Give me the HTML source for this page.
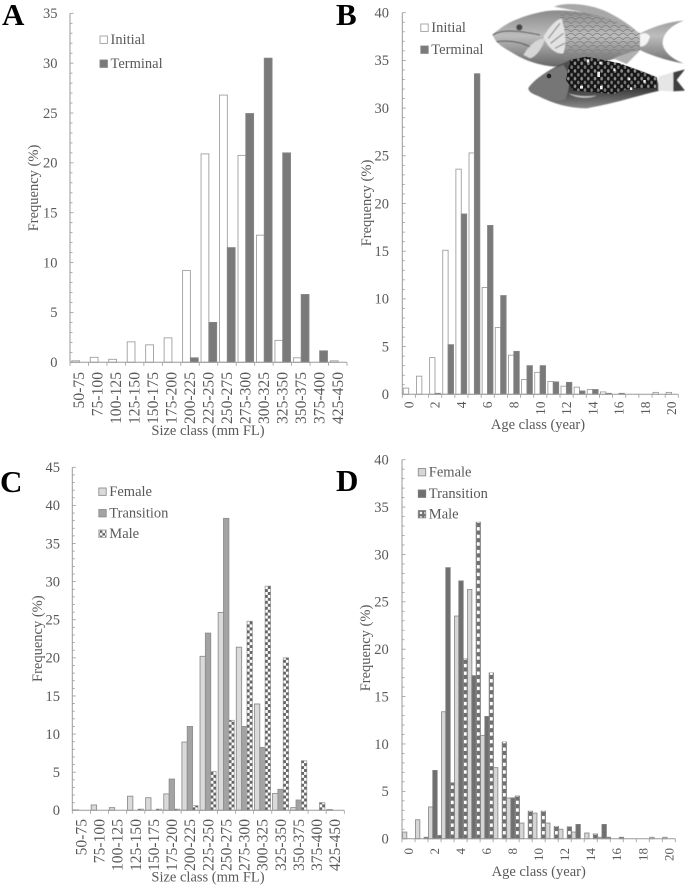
<!DOCTYPE html>
<html>
<head>
<meta charset="utf-8">
<title>Size and age frequency charts</title>
<style>
html,body{margin:0;padding:0;background:#fff;width:685px;height:886px;overflow:hidden}
svg{display:block;position:absolute;left:0;top:0}
#charts{filter:blur(0.35px)}
text{font-family:"Liberation Serif",serif;fill:#595959}
.panel{font-weight:bold;font-size:31px;fill:#000}
</style>
</head>
<body>
<svg id="charts" width="685" height="886" viewBox="0 0 685 886" xmlns="http://www.w3.org/2000/svg">
  <defs>
    <pattern id="checkC" width="5.2" height="5.2" patternUnits="userSpaceOnUse" x="1">
      <rect width="5.2" height="5.2" fill="#fff"/>
      <rect width="2.6" height="2.6" fill="#666"/>
      <rect x="2.6" y="2.6" width="2.6" height="2.6" fill="#666"/>
    </pattern>
    <pattern id="checkD" width="4.6" height="4.6" patternUnits="userSpaceOnUse">
      <rect width="4.6" height="4.6" fill="#707070"/>
      <rect x="1.2" y="1.2" width="2.2" height="2.2" fill="#fff"/>
    </pattern>
    <linearGradient id="fish1" x1="0" y1="0" x2="0" y2="1">
      <stop offset="0" stop-color="#8a8a8a"/><stop offset=".45" stop-color="#bdbdbd"/><stop offset="1" stop-color="#666"/>
    </linearGradient>
    <linearGradient id="fish2" x1="0" y1="0" x2="0" y2="1">
      <stop offset="0" stop-color="#555"/><stop offset=".6" stop-color="#3a3a3a"/><stop offset="1" stop-color="#8a8a8a"/>
    </linearGradient>
    <pattern id="scales" width="20" height="23" patternUnits="userSpaceOnUse">
      <rect width="20" height="23" fill="#151515"/>
      <ellipse cx="5" cy="6" rx="4" ry="5.5" fill="#8c8c8c"/>
      <ellipse cx="15" cy="17.5" rx="4" ry="5.5" fill="#777"/>
    </pattern>
    <pattern id="lightScales" width="26" height="24" patternUnits="userSpaceOnUse">
      <path d="M0 12C7 2 19 2 26 12M-13 24C-6 14 6 14 13 24C20 14 32 14 39 24" fill="none" stroke="#808080" stroke-width="2.5"/>
    </pattern>
    <filter id="soft"><feGaussianBlur stdDeviation="1.6"/></filter>
    <filter id="softer"><feGaussianBlur stdDeviation="0.9"/></filter>
    <clipPath id="scaleArea"><path d="M258 240L270 180L320 170L420 190L530 232L530 265L450 265L400 282L280 272Z"/></clipPath>
    <clipPath id="upperBody"><path d="M38 105C70 70 130 45 200 33C300 22 420 60 480 100L480 150C430 170 350 195 270 200C200 205 140 185 100 160C75 145 50 135 38 105Z"/></clipPath>
  </defs>

  <text class="panel" x="2" y="25">A</text>
  <text class="panel" x="336" y="25">B</text>
  <text class="panel" x="0" y="492">C</text>
  <text class="panel" x="336" y="491">D</text>

  <g id="chart-a"></g>
  <g id="chart-b"></g>
  <g id="chart-c"></g>
  <g id="chart-d"></g>

  <g transform="translate(480 0) scale(.3333)">
    <g>
      <g filter="url(#soft)">
        <path d="M222 20C260 5 330 12 380 35C420 55 450 75 475 98L420 75L300 35Z" fill="#a8a8a8"/>
        <path d="M38 105C70 70 130 45 200 33C300 22 420 60 480 100C510 85 560 65 612 62C575 75 548 100 548 130C550 155 580 180 612 190C570 185 510 165 480 150C430 170 350 195 270 200C200 205 140 185 100 160C75 145 50 135 38 105Z" fill="url(#fish1)"/>
      </g>
      <rect x="240" y="35" width="240" height="160" fill="url(#lightScales)" clip-path="url(#upperBody)" filter="url(#softer)"/>
      <g filter="url(#soft)">
        <path d="M190 110C205 85 225 60 245 55C255 90 262 130 250 160C235 165 205 150 190 110Z" fill="#e2e2e2"/>
        <path d="M205 115L240 70M212 130L250 100M225 145L254 130" stroke="#777" stroke-width="3" fill="none"/>
        <path d="M130 165C150 130 175 115 195 115C190 140 170 170 150 175Z" fill="#d6d6d6"/>
        <path d="M480 105C490 95 505 100 510 110C505 125 500 140 480 140Z" fill="#f4f4f4"/>
        <path d="M38 105C60 90 100 88 180 105M50 125C90 120 120 125 150 140" stroke="#5c5c5c" stroke-width="3" fill="none"/>
        <circle cx="118" cy="82" r="9" fill="#444"/>
      </g>
    </g>
    <g>
      <g filter="url(#soft)">
        <path d="M400 175C430 162 460 153 480 152L440 192Z" fill="#b0b0b0"/>
        <path d="M145 265C160 240 210 205 270 180C320 165 420 185 530 232L540 272C480 285 400 312 320 325C270 325 220 312 180 290C160 282 148 278 145 265Z" fill="url(#fish2)"/>
        <path d="M145 265C160 240 200 212 250 195C270 220 275 260 255 298C225 308 195 300 175 288C158 280 148 278 145 265Z" fill="#767676"/>
        <path d="M535 230L585 215L578 245L585 275L535 272Z" fill="#e6e6e6"/>
        <path d="M580 217L615 208L590 240L615 272L580 274Z" fill="#3f3f3f"/>
        <path d="M265 280C290 288 320 292 350 286C330 296 290 296 265 280Z" fill="#cfcfcf"/>
      </g>
      <rect x="255" y="165" width="285" height="120" fill="url(#scales)" clip-path="url(#scaleArea)" filter="url(#softer)"/>
      <g fill="#eee" filter="url(#softer)">
        <rect x="320" y="178" width="8" height="9"/><rect x="352" y="215" width="8" height="16"/><rect x="358" y="185" width="7" height="8"/>
        <rect x="400" y="205" width="6" height="8"/><rect x="445" y="233" width="6" height="8"/><rect x="490" y="240" width="7" height="8"/>
        <rect x="300" y="258" width="9" height="8"/><rect x="360" y="258" width="8" height="10"/><rect x="450" y="262" width="7" height="8"/>
      </g>
      <circle cx="207" cy="228" r="7" fill="#222" filter="url(#softer)"/>
    </g>
  </g>
</svg>

<script>
// Panel A: size class, initial vs terminal
const sizeClassesAB = ['50-75','75-100','100-125','125-150','150-175','175-200','200-225','225-250','250-275','275-300','300-325','325-350','350-375','375-400','425-450'];
const initialBySize = [0.15,0.5,0.3,2.05,1.75,2.45,9.2,20.9,26.8,20.75,12.75,2.2,0.45,0,0.15];
const terminalBySize = [0,0,0,0,0,0,0.45,4,11.5,24.95,30.5,21,6.8,1.15,0];
const yTicksA = [0,5,10,15,20,25,30,35];

// Panel B: age class, initial vs terminal
const ageClasses = ['0','1','2','3','4','5','6','7','8','9','10','11','12','13','14','15','16','17','18','19','20'];
const ageTickLabels = ['0','','2','','4','','6','','8','','10','','12','','14','','16','','18','','20'];
const initialByAge = [0.65,1.9,3.85,15.1,23.6,25.3,11.2,7,4.1,1.55,2.3,1.35,0.85,0.75,0.5,0.25,0,0,0,0.2,0.2];
const terminalByAge = [0,0,0.1,5.2,18.9,33.6,17.7,10.35,4.5,3,3,1.3,1.25,0.35,0.5,0.1,0.1,0,0,0,0];
const yTicksB = [0,5,10,15,20,25,30,35,40];

// Panel C: size class, female / transition / male
const femaleBySize = [0.05,0.7,0.35,1.85,1.65,2.15,8.95,20.2,25.95,21.4,13.95,2.2,0.35,0,0.1];
const transitionBySize = [0,0,0,0,0,4.1,11,23.25,38.3,11,8.25,2.75,1.35,0,0];
const maleBySize = [0,0,0,0.15,0.15,0.15,0.6,5.1,11.8,24.8,29.4,20,6.5,1,0];
const yTicksC = [0,5,10,15,20,25,30,35,40,45];

// Panel D: age class, female / transition / male
const femaleByAge = [0.7,2,3.35,13.4,23.5,26.3,10.9,7.5,4.3,1.65,2.7,1.65,1,0.7,0.6,0.15,0,0,0,0.15,0.15];
const transitionByAge = [0,0,7.2,28.6,27.2,17.2,12.9,0,4.3,0,0,0,0,1.5,0,1.5,0,0,0,0,0];
const maleByAge = [0,0.15,0.35,5.9,19,33.4,17.5,10.2,4.5,2.9,2.9,1.3,1.25,0,0.5,0.15,0.15,0,0,0,0];
const yTicksD = [0,5,10,15,20,25,30,35,40];

const SVG_NS = 'http://www.w3.org/2000/svg';
const AXIS_COLOR = '#9a9a9a';

function make(tag, parent, props) {
  const el = document.createElementNS(SVG_NS, tag);
  for (const k in props) el.setAttribute(k, props[k]);
  parent.appendChild(el);
  return el;
}

// Checker texture aligned to a single bar, filled from the bar's base upward.
function drawCheckCells(root, x, top, bottom, w, style) {
  let row = 0;
  for (let yy = bottom - style.rowH; yy > top - style.rowH + 0.6; yy -= style.rowH) {
    const cellTop = Math.max(yy, top);
    const h = yy + style.rowH * style.cellFrac - cellTop;
    if (h > 0.3) {
      const cx = style.mode === 'checker' ? x + (row % 2 ? w / 2 : 0) : x + (w - style.cellW) / 2;
      const c = make('rect', root, { x: cx, y: cellTop, width: style.mode === 'checker' ? w / 2 : style.cellW, height: h, fill: style.cellFill });
      
      
    }
    row++;
  }
}

function drawChart(opts) {
  const root = document.getElementById(opts.id);
  const cats = opts.categories;
  const catW = (opts.xEnd - opts.x0) / cats.length;
  const yMax = opts.yTicks[opts.yTicks.length - 1];
  const xScale = function (i) { return opts.x0 + catW * i; };
  const yScale = function (v) { return opts.y0 - (v / yMax) * (opts.y0 - opts.yTop); };

  // bars
  opts.series.forEach(function (s, si) {
    s.values.forEach(function (v, i) {
      if (!v) return;
      const bx = xScale(i) + opts.offset + opts.barW * si;
      const r = make('rect', root, {
        x: bx,
        y: yScale(v),
        width: opts.barW,
        height: opts.y0 - yScale(v),
        fill: s.check ? s.check.base : s.fill,
        stroke: s.stroke,
        'stroke-width': 0.9
      });
      
      
      if (s.check) drawCheckCells(root, bx, yScale(v), opts.y0, opts.barW, s.check);
    });
  });

  // y axis
  const yAxis = make('line', root, { x1: opts.x0, x2: opts.x0, y1: opts.yTop, y2: opts.y0, stroke: AXIS_COLOR, 'stroke-width': 1 });
  
  
  for (let v = 0; v <= yMax; v++) {
    const major = v % 5 === 0;
    const t = make('line', root, { x1: opts.x0, x2: opts.x0 + (major ? 3.5 : 2.5), y1: yScale(v), y2: yScale(v), stroke: AXIS_COLOR, 'stroke-width': 0.8 });
    
    
  }
  opts.yTicks.forEach(function (v) {
    const l = make('text', root, { x: opts.yLabelX, y: yScale(v) + 4.8, 'text-anchor': 'end', 'font-size': 14.5 });
    l.textContent = String(v);
    
    
  });

  // x axis
  const xAxis = make('line', root, { x1: opts.x0, x2: opts.xEnd, y1: opts.y0, y2: opts.y0, stroke: AXIS_COLOR, 'stroke-width': 1 });
  
  
  for (let i = 0; i <= cats.length; i++) {
    const t = make('line', root, { x1: xScale(i), x2: xScale(i), y1: opts.y0, y2: opts.y0 + 3.5, stroke: AXIS_COLOR, 'stroke-width': 0.8 });
    
    
  }
  opts.xLabels.forEach(function (label, i) {
    if (!label) return;
    const cx = xScale(i) + catW / 2 + opts.xLabelShift;
    const l = make('text', root, {
      transform: 'translate(' + cx + ' ' + opts.xLabelTop + ') rotate(-90)',
      'text-anchor': 'end',
      'font-size': opts.xLabelSize
    });
    l.textContent = label;
    
    
  });

  // titles
  const yt = make('text', root, {
    transform: 'translate(' + opts.yTitleX + ' ' + opts.yTitleY + ') rotate(-90)',
    'text-anchor': 'middle',
    'font-size': 14.5
  });
  yt.textContent = 'Frequency (%)';
  
  

  const xt = make('text', root, { x: opts.xTitleX, y: opts.xTitleY, 'text-anchor': 'middle', 'font-size': 14.5 });
  xt.textContent = opts.xTitle;
  
  

  // legend
  opts.series.forEach(function (s, si) {
    const base = opts.legendY[si];
    const key = make('rect', root, { x: opts.legendX, y: base - 8, width: 7.4, height: 7.4, fill: s.fill, stroke: s.stroke, 'stroke-width': 0.9 });
    
    
    const txt = make('text', root, { x: opts.legendX + 10.5, y: base, 'font-size': 14.5 });
    txt.textContent = s.label;
    
    
  });
}

drawChart({
  id: 'chart-a', categories: sizeClassesAB, xLabels: sizeClassesAB, yTicks: yTicksA,
  x0: 70, xEnd: 347, y0: 362.3, yTop: 13.3, offset: 1.8, barW: 7.8,
  yLabelX: 57.5, xLabelTop: 372, xLabelSize: 15.6, xLabelShift: 5,
  yTitleX: 38, yTitleY: 188, xTitle: 'Size class (mm FL)', xTitleX: 208, xTitleY: 435,
  legendX: 100, legendY: [44, 68],
  series: [
    { name: 'initial', label: 'Initial', values: initialBySize, fill: '#fff', stroke: '#9f9f9f' },
    { name: 'terminal', label: 'Terminal', values: terminalBySize, fill: '#7a7a7a', stroke: '#858585' }
  ]
});

drawChart({
  id: 'chart-b', categories: ageClasses, xLabels: ageTickLabels, yTicks: yTicksB,
  x0: 402.3, xEnd: 678.3, y0: 394.3, yTop: 12.7, offset: 1, barW: 5.4,
  yLabelX: 389, xLabelTop: 401.5, xLabelSize: 13.5, xLabelShift: 4.5,
  yTitleX: 371, yTitleY: 203, xTitle: 'Age class (year)', xTitleX: 538, xTitleY: 429,
  legendX: 420.8, legendY: [32, 54],
  series: [
    { name: 'initial', label: 'Initial', values: initialByAge, fill: '#fff', stroke: '#9f9f9f' },
    { name: 'terminal', label: 'Terminal', values: terminalByAge, fill: '#7a7a7a', stroke: '#858585' }
  ]
});

drawChart({
  id: 'chart-c', categories: sizeClassesAB, xLabels: sizeClassesAB, yTicks: yTicksC,
  x0: 72.3, xEnd: 344.3, y0: 810.3, yTop: 467.3, offset: 0.8, barW: 5.35,
  yLabelX: 60, xLabelTop: 819, xLabelSize: 15.6, xLabelShift: 5,
  yTitleX: 42, yTitleY: 638.7, xTitle: 'Size class (mm FL)', xTitleX: 208, xTitleY: 881.5,
  legendX: 98.8, legendY: [496, 517.5, 538],
  series: [
    { name: 'female', label: 'Female', values: femaleBySize, fill: '#dadada', stroke: '#8f8f8f' },
    { name: 'transition', label: 'Transition', values: transitionBySize, fill: '#a3a3a3', stroke: '#8f8f8f' },
    { name: 'male', label: 'Male', values: maleBySize, fill: 'url(#checkC)', stroke: '#a5a5a5',
      check: { mode: 'checker', base: '#fff', cellFill: '#666', rowH: 2.95, cellFrac: 1 } }
  ]
});

drawChart({
  id: 'chart-d', categories: ageClasses, xLabels: ageTickLabels, yTicks: yTicksD,
  x0: 402, xEnd: 675.3, y0: 838.7, yTop: 459.7, offset: 0.5, barW: 4.3,
  yLabelX: 388.7, xLabelTop: 848, xLabelSize: 13, xLabelShift: 4.5,
  yTitleX: 370, yTitleY: 648, xTitle: 'Age class (year)', xTitleX: 538.7, xTitleY: 876,
  legendX: 418.3, legendY: [476.5, 498, 518.5],
  series: [
    { name: 'female', label: 'Female', values: femaleByAge, fill: '#d6d6d6', stroke: '#8f8f8f' },
    { name: 'transition', label: 'Transition', values: transitionByAge, fill: '#6f6f6f', stroke: '#7a7a7a' },
    { name: 'male', label: 'Male', values: maleByAge, fill: 'url(#checkD)', stroke: '#8a8a8a',
      check: { mode: 'center', base: '#707070', cellFill: '#fff', cellW: 2.8, rowH: 7.6, cellFrac: 0.45 } }
  ]
});
</script>
</body>
</html>
